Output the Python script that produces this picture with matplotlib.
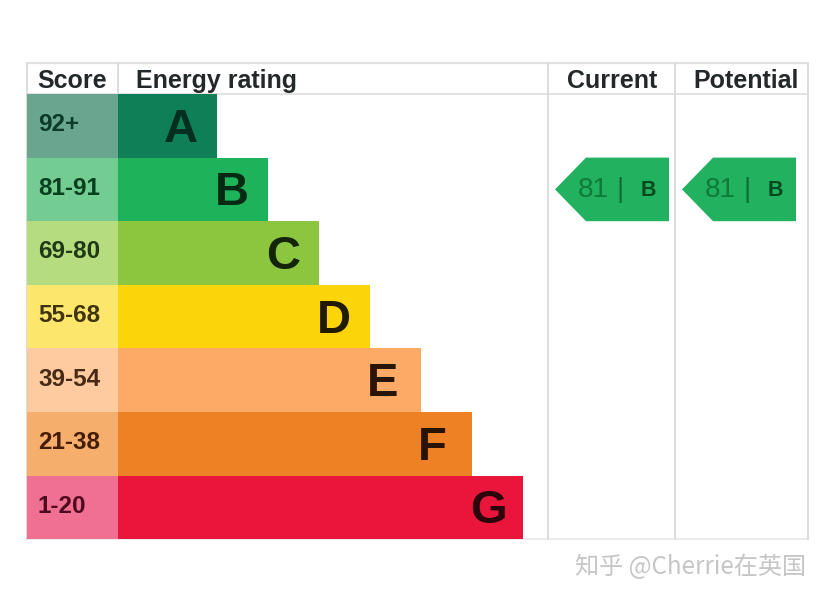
import matplotlib
matplotlib.use("Agg")
import matplotlib.pyplot as plt
from matplotlib.patches import Polygon

scores = ["92+", "81-91", "69-80", "55-68", "39-54", "21-38", "1-20"]
letters = ["A", "B", "C", "D", "E", "F", "G"]
bar_lengths = [99, 150, 201, 252, 303, 354, 405]
bar_colors = ["#0f7f58", "#1cb35a", "#8cc63f", "#fbd50a", "#fdaa66", "#ee8124", "#e9153b"]
score_colors = ["#6aa68f", "#73cc92", "#b5dd80", "#fde66c", "#fdcb9f", "#f6ae6c", "#ef7090"]
letter_inks = ["#032e20", "#042a14", "#142406", "#1f1a00", "#2a1405", "#2a1203", "#2c040c"]
score_inks = ["#0c3b28", "#0a3f1e", "#213a16", "#40340e", "#472a16", "#451d06", "#500a20"]
letter_offsets = [36, 36, 36, 36, 38, 40, 35]
headers = ["Score", "Energy rating", "Current", "Potential"]
current = "81"
current_band = "B"
potential = "81"
potential_band = "B"
watermark = "知乎 @Cherrie在英国"

W, H = 828, 599
fig = plt.figure(figsize=(W/100, H/100), dpi=100)
ax = fig.add_axes([0, 0, 1, 1])
ax.set_xlim(0, W)
ax.set_ylim(H, 0)
ax.axis("off")
plt.rcParams['font.family'] = ['Liberation Sans', 'DejaVu Sans']

LEFT, COL1, COL2, COL3, RIGHT = 27, 118, 548, 675, 808
TOP, HEAD, ROW = 63, 94, 63.6
BOTTOM = HEAD + ROW * 7
grid = "#dcdcdc"
ink = "#23282a"

for i, (s, l, blen, c, sc) in enumerate(zip(scores, letters, bar_lengths, bar_colors, score_colors)):
    y = HEAD + ROW * i
    ax.barh(y + ROW/2, COL1 - LEFT, left=LEFT, height=ROW, color=sc, linewidth=0, zorder=2)
    ax.barh(y + ROW/2, blen, left=COL1, height=ROW, color=c, linewidth=0, zorder=2)
    ax.text(38, y + ROW/2 - 1, s, fontsize=17.5, fontweight="bold", color=score_inks[i],
            va="center", ha="left", zorder=3, family=['Liberation Sans'])
    ax.text(COL1 + blen - letter_offsets[i], y + ROW/2 + 4, l, fontsize=34, fontweight="bold",
            color=letter_inks[i], va="center", ha="center", zorder=3, family=['Liberation Sans'])

# table lines
ax.plot([LEFT, RIGHT], [TOP, TOP], color="#e2e2e2", lw=1.6, zorder=1)
ax.plot([LEFT, RIGHT], [HEAD, HEAD], color="#e2e2e2", lw=1.4, zorder=1)
ax.plot([LEFT, RIGHT], [BOTTOM, BOTTOM], color="#ebebeb", lw=1.4, zorder=1)
for x in (LEFT, COL1, COL2, COL3, RIGHT):
    ax.plot([x, x], [TOP, BOTTOM if x != COL1 else HEAD], color=grid, lw=1.4, zorder=1)

for t, x in zip(headers, [72, 217, 612.5, 746]):
    ax.text(x, 81, t, fontsize=18, fontweight="bold", color=ink, va="center", ha="center",
            family=['Liberation Sans'])

# arrows
green = "#22b25f"
for x0, val, band in [(555, current, current_band), (682, potential, potential_band)]:
    y0 = HEAD + ROW
    pts = [(x0, y0 + ROW/2), (x0 + 31, y0), (x0 + 114, y0), (x0 + 114, y0 + ROW), (x0 + 31, y0 + ROW)]
    ax.add_patch(Polygon(pts, closed=True, facecolor=green, edgecolor="none", zorder=2))
    ax.text(x0 + 23, y0 + ROW/2 + 1, val, fontsize=20, color="#0f7a3a", va="center", ha="left", zorder=3,
            family=['Liberation Sans'])
    ax.text(x0 + 65, y0 + ROW/2 + 1, "|", fontsize=20, color="#0f6e34", va="center",
            ha="center", zorder=3, family=['Liberation Sans'])
    ax.text(x0 + 93, y0 + ROW/2 + 1, band, fontsize=15.5, fontweight="bold", color="#07491f", va="center",
            ha="center", zorder=3, family=['Liberation Sans'])

ax.text(806, 567, watermark, fontsize=17.4, color="#c6c6c6", va="center", ha="right",
        family=['Noto Sans CJK SC', 'DejaVu Sans'])

fig.savefig("out.png", dpi=100)
